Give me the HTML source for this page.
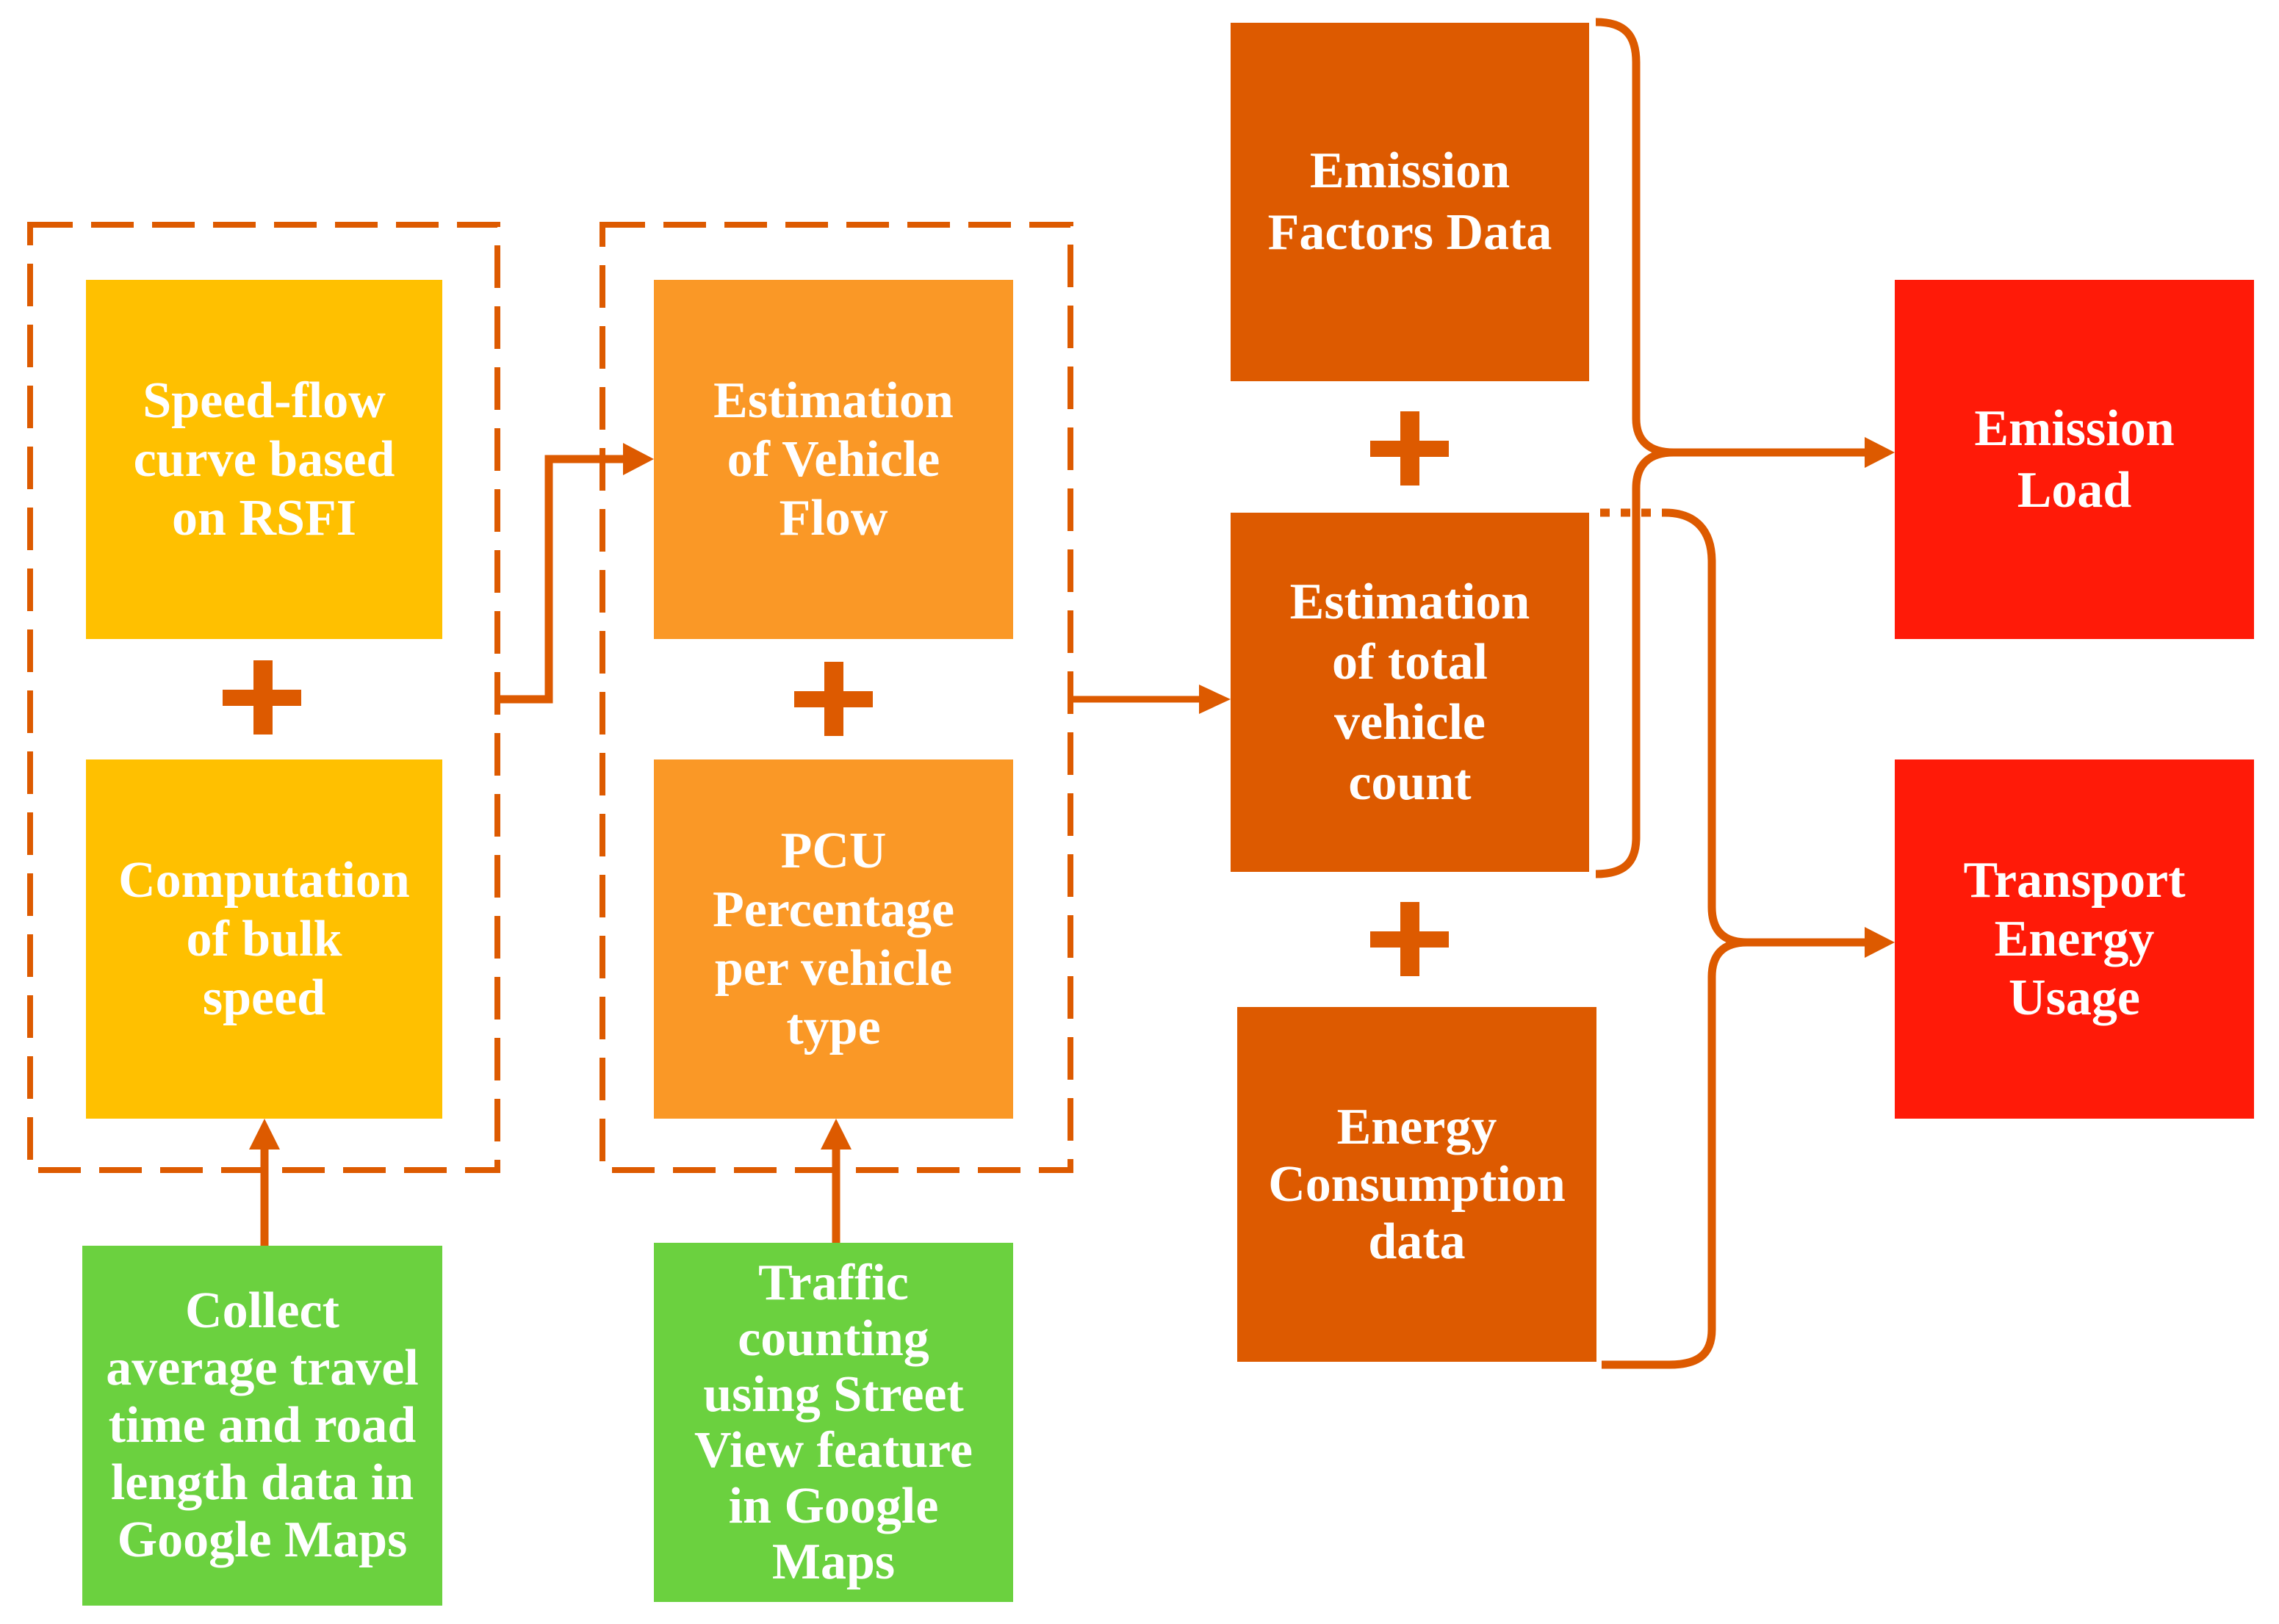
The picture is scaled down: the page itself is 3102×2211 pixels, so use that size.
<!DOCTYPE html>
<html><head><meta charset="utf-8"><style>
html,body{margin:0;padding:0;background:#fff;}
body{width:3102px;height:2211px;position:relative;overflow:hidden;font-family:"Liberation Serif",serif;}
.b{position:absolute;display:flex;align-items:center;justify-content:center;text-align:center;color:#fff;font-weight:bold;font-size:70px;line-height:80px;}
.y{background:#FFC000}.o{background:#FA9826}.d{background:#DD5A00}.r{background:#FF1A08}.g{background:#6BD13F}
svg{position:absolute;left:0;top:0;}
</style></head><body>
<svg width="3102" height="2211" viewBox="0 0 3102 2211">
<g fill="none" stroke="#DD5A00">
<rect x="41" y="306" width="636" height="1287" stroke-width="8" stroke-dasharray="58 25"/>
<rect x="820" y="306" width="637" height="1287" stroke-width="8" stroke-dasharray="58 25"/>
<polyline points="677,952 747,952 747,625 850,625" stroke-width="11"/>
<line x1="1457" y1="952" x2="1635" y2="952" stroke-width="9"/>
<line x1="360" y1="1696" x2="360" y2="1560" stroke-width="11"/>
<line x1="1138" y1="1692" x2="1138" y2="1560" stroke-width="11"/>
<path d="M2172,30 C2212,30 2227,48 2227,85 L2227,570 C2227,600 2245,616 2278,616 L2540,616" stroke-width="11"/>
<path d="M2278,616 C2245,616 2227,632 2227,665 L2227,1140 C2227,1175 2210,1190 2172,1190" stroke-width="11"/>
<line x1="2178" y1="698" x2="2268" y2="698" stroke-width="11" stroke-dasharray="13 15"/>
<path d="M2266,698 C2308,698 2330,722 2330,765 L2330,1235 C2330,1266 2345,1283 2378,1283 L2540,1283" stroke-width="11"/>
<path d="M2378,1283 C2345,1283 2330,1300 2330,1330 L2330,1810 C2330,1845 2310,1858 2272,1858 L2180,1858" stroke-width="11"/>
</g>
<g fill="#DD5A00">
<polygon points="890,625 848,603 848,647"/>
<polygon points="1675,952 1632,932 1632,972"/>
<polygon points="2579,616 2538,595 2538,637"/>
<polygon points="2579,1283 2538,1262 2538,1304"/>
<polygon points="360,1523 339,1565 381,1565"/>
<polygon points="1138,1523 1117,1565 1159,1565"/>
<rect x="303" y="939" width="107" height="22"/><rect x="345" y="899" width="26" height="101"/>
<rect x="1081" y="941" width="107" height="22"/><rect x="1122" y="901" width="26" height="101"/>
<rect x="1865" y="600" width="107" height="22"/><rect x="1906" y="560" width="26" height="101"/>
<rect x="1865" y="1268" width="107" height="22"/><rect x="1906" y="1228" width="26" height="101"/>
</g>
</svg>
<div class="b y" style="left:117px;top:381px;width:485px;height:489px">Speed-flow<br>curve based<br>on RSFI</div>
<div class="b y" style="left:117px;top:1034px;width:485px;height:489px">Computation<br>of bulk<br>speed</div>
<div class="b o" style="left:890px;top:381px;width:489px;height:489px">Estimation<br>of Vehicle<br>Flow</div>
<div class="b o" style="left:890px;top:1034px;width:489px;height:489px">PCU<br>Percentage<br>per vehicle<br>type</div>
<div class="b g" style="left:112px;top:1696px;width:490px;height:490px;line-height:78px">Collect<br>average travel<br>time and road<br>length data in<br>Google Maps</div>
<div class="b g" style="left:890px;top:1692px;width:489px;height:489px;line-height:76px">Traffic<br>counting<br>using Street<br>View feature<br>in Google<br>Maps</div>
<div class="b d" style="left:1675px;top:31px;width:488px;height:488px;line-height:84px">Emission<br>Factors Data</div>
<div class="b d" style="left:1675px;top:698px;width:488px;height:489px;line-height:82px">Estimation<br>of total<br>vehicle<br>count</div>
<div class="b d" style="left:1684px;top:1371px;width:489px;height:483px;line-height:78px">Energy<br>Consumption<br>data</div>
<div class="b r" style="left:2579px;top:381px;width:489px;height:489px;line-height:84px">Emission<br>Load</div>
<div class="b r" style="left:2579px;top:1034px;width:489px;height:489px;line-height:80px">Transport<br>Energy<br>Usage</div>
</body></html>
